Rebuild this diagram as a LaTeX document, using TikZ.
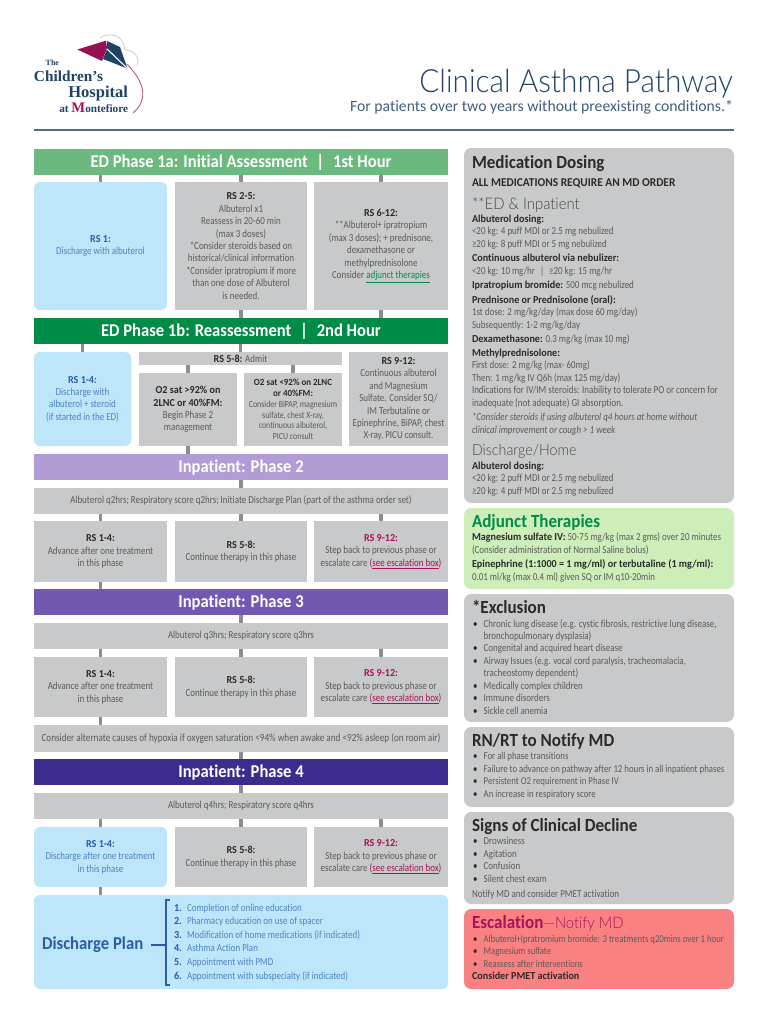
\documentclass[tikz,border=0pt]{standalone}
\usepackage{fontspec}
\setmainfont{Carlito}[FakeStretch=0.84,Ligatures=NoCommon]
\newfontfamily\hf{Carlito}[FakeStretch=0.92,Ligatures=NoCommon]
\newfontfamily\bbf{Carlito}[FakeStretch=0.95,Ligatures=NoCommon]
\newfontfamily\stf{Carlito}[Ligatures=NoCommon]
\newfontfamily\lf{Lato Light}[FakeStretch=0.93,Ligatures=NoCommon]
\newfontfamily\lgf{Liberation Serif}
\definecolor{boxg}{HTML}{C8C9CA}
\definecolor{lbl}{HTML}{BEE6FA}
\definecolor{txg}{HTML}{5A5A5A}
\definecolor{txd}{HTML}{2A2A2A}
\definecolor{txb}{HTML}{4F83C0}
\definecolor{txbd}{HTML}{2B5DA6}
\definecolor{gr1}{HTML}{6CB97F}
\definecolor{gr2}{HTML}{008C47}
\definecolor{pu1}{HTML}{B19CD6}
\definecolor{pu2}{HTML}{7358B1}
\definecolor{pu3}{HTML}{3D2B8E}
\definecolor{cred}{HTML}{A8125A}
\definecolor{adj}{HTML}{CDEDB9}
\definecolor{esc}{HTML}{F98182}
\definecolor{navy}{HTML}{1F4266}
\definecolor{rul}{HTML}{4D6B88}
\definecolor{conng}{HTML}{8B8D8F}
\definecolor{subg}{HTML}{464646}
\newcommand\bodyf{\fontsize{8pt}{9.32pt}\selectfont}
\newcommand\bd[1]{{\color{txd}\bbf\bfseries #1}}
\newcommand\bdb[1]{{\color{txbd}\bbf\bfseries #1}}
\newcommand\bdr[1]{{\color{cred}\bbf\bfseries #1}}
\newcommand\bl{\makebox[8pt][l]{{\color{txd}\textbullet}}}
\newcommand\bi{\hspace*{8pt}}
\newcommand\esclink{{\color{cred}(\underline{see escalation box})}}
\newcommand\bx[6]{\node[#1,minimum width={(#5-#3)*0.75pt},minimum height={(#6-#4)*0.75pt}] (#2) at ({(#3+#5)/2},{(#4+#6)/2})}
\tikzset{
 x=0.75pt,y=-0.75pt,
 base/.style={inner sep=0pt,outer sep=0pt,align=center,font=\bodyf,text=txg},
 gbox/.style={base,fill=boxg},
 bbox/.style={base,fill=lbl,text=txb,rounded corners=4.5pt},
 hdr/.style={inner sep=0pt,outer sep=0pt,text=white,text height=10pt,text depth=2.5pt,font=\hf\fontsize{13.5pt}{15pt}\selectfont\bfseries},
 panel/.style={inner sep=0pt,outer sep=0pt,rounded corners=5.5pt},
 ptxt/.style={inner sep=0pt,outer sep=0pt,align=left,anchor=base west,font=\bodyf,text=txg},
 ptitle/.style={inner sep=0pt,outer sep=0pt,anchor=base west,text=txd,font=\hf\fontsize{13.9pt}{16pt}\selectfont\bfseries},
 psub/.style={inner sep=0pt,outer sep=0pt,anchor=base west,text=subg,font=\lf\fontsize{11.5pt}{13pt}\selectfont},
 conn/.style={draw=conng,line width=2.6pt},
 logot/.style={inner sep=0pt,outer sep=0pt,text=navy,anchor=base east,font=\lgf\bfseries},
}
\begin{document}
\begin{tikzpicture}
\useasboundingbox (0,0) rectangle (768,1024);
\fill[white] (0,0) rectangle (768,1024);
% logo
\draw[gray!35,line width=0.7pt] (100,38) .. controls (108,32) and (124,34) .. (125,50) .. controls (136,50) and (140,60) .. (137,66);
\fill[cred!90!black] (77.3,49.5) -- (106,40.7) -- (107,48) -- (102,61) -- cycle;
\fill[navy] (107,41) -- (120,47) -- (127.5,68.5) -- (103,59) -- (107,49) -- cycle;
\draw[white,line width=0.8pt] (107,49) -- (127,68);
\draw[cred!70,line width=0.7pt] (127,64) .. controls (148,86) and (146,102) .. (133,113);
\node[logot,font=\lgf\bfseries\fontsize{6pt}{7pt}\selectfont] (lt) at (59,65) {The};
\node[logot,font=\lgf\bfseries\fontsize{11.5pt}{12pt}\selectfont] (lc) at (103,82) {Children’s};
\node[logot,font=\lgf\bfseries\fontsize{12.4pt}{13pt}\selectfont] (lh) at (128,98) {Hospital};
\node[logot,font=\lgf\bfseries\fontsize{8.4pt}{10pt}\selectfont] (lm) at (128,113) {at {\color{cred}\fontsize{11pt}{12pt}\selectfont M}ontefiore};
% title
\node[inner sep=0pt,outer sep=0pt,anchor=base east,text=navy,font=\lf\fontsize{24pt}{26pt}\selectfont] (title) at (733,93) {Clinical Asthma Pathway};
\node[inner sep=0pt,outer sep=0pt,anchor=base east,text=navy!85,font=\stf\fontsize{11.8pt}{13pt}\selectfont] (subtitle) at (733,112) {For patients over two years without preexisting conditions.*};
\coordinate (rl) at (34,130); \coordinate (rr) at (734,130);
\draw[rul,line width=0.9pt] (rl) -- (rr);
% left column
\bx{hdr,fill=gr1}{h1a}{34}{149}{448}{175}{ED Phase 1a: Initial Assessment \;|\; 1st Hour};
\bx{bbox}{a1}{34}{182}{167}{310}{\bdb{RS 1:}\\Discharge with albuterol};
\bx{gbox}{a2}{175}{182}{307}{310}{\bd{RS 2-5:}\\Albuterol x1\\Reassess in 20-60 min\\(max 3 doses)\\*Consider steroids based on\\historical/clinical information\\*Consider ipratropium if more\\than one dose of Albuterol\\is needed.};
\bx{gbox}{a3}{314}{182}{448}{310}{\bd{RS 6-12:}\\**Albuterol+ ipratropium\\(max 3 doses); + prednisone,\\dexamethasone or\\methylprednisolone\\Consider {\color{gr2}\underline{adjunct therapies}}};
\bx{hdr,fill=gr2}{h1b}{34}{318}{448}{344}{ED Phase 1b: Reassessment \;|\; 2nd Hour};
\bx{bbox}{b1}{34}{352}{131}{446}{\bdb{RS 1-4:}\\Discharge with\\albuterol + steroid\\(if started in the ED)};
\bx{gbox}{b2}{139}{352}{342}{365}{\bd{RS 5-8:} Admit};
\bx{gbox}{b3}{139}{373}{237}{446}{\bd{O2 sat >92\% on}\\\bd{2LNC or 40\%FM:}\\Begin Phase 2\\management};
\bx{gbox,font=\fontsize{7.05pt}{8.1pt}\selectfont}{b4}{244}{373}{342}{446}{\bd{O2 sat <92\% on 2LNC}\\\bd{or 40\%FM:}\\Consider BiPAP, magnesium\\sulfate, chest X-ray,\\continuous albuterol,\\PICU consult};
\bx{gbox}{b5}{349}{352}{448}{446}{\bd{RS 9-12:}\\Continuous albuterol\\and Magnesium\\Sulfate. Consider SQ/\\IM Terbutaline or\\Epinephrine, BiPAP, chest\\X-ray, PICU consult.};
\bx{hdr,fill=pu1}{h2}{34}{454}{448}{480}{Inpatient: Phase 2};
\bx{gbox}{c0}{34}{488}{448}{514}{Albuterol q2hrs; Respiratory score q2hrs; Initiate Discharge Plan (part of the asthma order set)};
\bx{gbox}{c1}{34}{521}{167}{582}{\bd{RS 1-4:}\\Advance after one treatment\\in this phase};
\bx{gbox}{c2}{175}{521}{307}{582}{\bd{RS 5-8:}\\Continue therapy in this phase};
\bx{gbox}{c3}{314}{521}{448}{582}{\bdr{RS 9-12:}\\Step back to previous phase or\\escalate care \esclink};
\bx{hdr,fill=pu2}{h3}{34}{589}{448}{615}{Inpatient: Phase 3};
\bx{gbox}{d0}{34}{623}{448}{649}{Albuterol q3hrs; Respiratory score q3hrs};
\bx{gbox}{d1}{34}{657}{167}{717}{\bd{RS 1-4:}\\Advance after one treatment\\in this phase};
\bx{gbox}{d2}{175}{657}{307}{717}{\bd{RS 5-8:}\\Continue therapy in this phase};
\bx{gbox}{d3}{314}{657}{448}{717}{\bdr{RS 9-12:}\\Step back to previous phase or\\escalate care \esclink};
\bx{gbox,font=\fontsize{8.2pt}{9.32pt}\selectfont}{d4}{34}{725}{448}{752}{Consider alternate causes of hypoxia if oxygen saturation <94\% when awake and <92\% asleep (on room air)};
\bx{hdr,fill=pu3}{h4}{34}{759}{448}{785}{Inpatient: Phase 4};
\bx{gbox}{e0}{34}{793}{448}{819}{Albuterol q4hrs; Respiratory score q4hrs};
\bx{bbox}{e1}{34}{827}{167}{887}{\bdb{RS 1-4:}\\Discharge after one treatment\\in this phase};
\bx{gbox}{e2}{175}{827}{307}{887}{\bd{RS 5-8:}\\Continue therapy in this phase};
\bx{gbox}{e3}{314}{827}{448}{887}{\bdr{RS 9-12:}\\Step back to previous phase or\\escalate care \esclink};
\bx{bbox}{f0}{34}{895}{448}{989}{};
\node[inner sep=0pt,outer sep=0pt,anchor=base west,text=txbd,font=\hf\fontsize{13.6pt}{15pt}\selectfont\bfseries] (dp) at (42,949) {Discharge Plan};
\node[inner sep=0pt,outer sep=0pt,anchor=base west,align=left,text=txb,font=\fontsize{8pt}{10.2pt}\selectfont] (dl) at (174,979) {\makebox[9.8pt][l]{\bdb{1.}}Completion of online education\\\makebox[9.8pt][l]{\bdb{2.}}Pharmacy education on use of spacer\\\makebox[9.8pt][l]{\bdb{3.}}Modification of home medications (if indicated)\\\makebox[9.8pt][l]{\bdb{4.}}Asthma Action Plan\\\makebox[9.8pt][l]{\bdb{5.}}Appointment with PMD\\\makebox[9.8pt][l]{\bdb{6.}}Appointment with subspecialty (if indicated)};
\coordinate (bt) at (170,900); \coordinate (bb) at (170,985); \coordinate (bm) at (166,945);
\draw[txbd,line width=1.1pt] (bt) -- (bm |- bt) -- (bm |- bb) -- (bb);
\draw[txbd,line width=0.8pt] ([xshift=6pt,yshift=3pt]dp.base east) -- (bm);
% connectors
\foreach \n in {a1,a2,a3} \draw[conn] (\n.north) -- (\n.north |- h1a.south);
\foreach \n in {a2,a3} \draw[conn] (\n.south) -- (\n.south |- h1b.north);
\foreach \n in {b1,b2} \draw[conn] (\n.north) -- (\n.north |- h1b.south);
\foreach \n in {b3,b4} \draw[conn] (\n.north) -- (\n.north |- b2.south);
\draw[conn] (b3.south) -- (b3.south |- h2.north);
\draw[conn] (c0.north) -- (c0.north |- h2.south);
\foreach \n in {c1,c2,c3} \draw[conn] (\n.north) -- (\n.north |- c0.south);
\draw[conn] (c1.south) -- (c1.south |- h3.north);
\draw[conn] (d0.north) -- (d0.north |- h3.south);
\foreach \n in {d1,d2,d3} \draw[conn] (\n.north) -- (\n.north |- d0.south);
\draw[conn] (d1.south) -- (d1.south |- d4.north);
\draw[conn] (d4.south) -- (d4.south |- h4.north);
\draw[conn] (e0.north) -- (e0.north |- h4.south);
\foreach \n in {e1,e2,e3} \draw[conn] (\n.north) -- (\n.north |- e0.south);
\draw[conn] (e1.south) -- (e1.south |- f0.north);
% right column
\bx{panel,fill=boxg}{p1}{464}{148}{734}{503}{};
\bx{panel,fill=adj}{p2}{464}{508}{734}{589}{};
\bx{panel,fill=boxg}{p3}{464}{594}{734}{722}{};
\bx{panel,fill=boxg}{p4}{464}{727}{734}{807}{};
\bx{panel,fill=boxg}{p5}{464}{812}{734}{904}{};
\bx{panel,fill=esc}{p6}{464}{909}{734}{989}{};
\node[ptitle] (m0) at (472,168) {Medication Dosing};
\node[ptxt,text=txd,font=\bbf\fontsize{9pt}{10pt}\selectfont\bfseries] (m1) at (472,186) {ALL MEDICATIONS REQUIRE AN MD ORDER};
\node[psub,font=\lf\fontsize{12pt}{13pt}\selectfont] (m2) at (472,209) {**ED \& Inpatient};
\node[ptxt] (m3) at (472,247) {\bd{Albuterol dosing:}\\<20 kg: 4 puff MDI or 2.5 mg nebulized\\≥20 kg: 8 puff MDI or 5 mg nebulized};
\node[ptxt] (m4) at (472,274) {\bd{Continuous albuterol via nebulizer:}\\<20 kg: 10 mg/hr \;|\; ≥20 kg: 15 mg/hr};
\node[ptxt] (m5) at (472,288) {\bd{Ipratropium bromide:} 500 mcg nebulized};
\node[ptxt] (m6) at (472,328) {\bd{Prednisone or Prednisolone (oral):}\\1st dose: 2 mg/kg/day (max dose 60 mg/day)\\Subsequently: 1-2 mg/kg/day};
\node[ptxt] (m7) at (472,342) {\bd{Dexamethasone:} 0.3 mg/kg (max 10 mg)};
\node[ptxt] (m8) at (472,406) {\bd{Methylprednisolone:}\\First dose: 2 mg/kg (max- 60mg)\\Then: 1 mg/kg IV Q6h (max 125 mg/day)\\Indications for IV/IM steroids: Inability to tolerate PO or concern for\\inadequate (not adequate) GI absorption.};
\node[ptxt] (m9) at (472,433) {\itshape *Consider steroids if using albuterol q4 hours at home without\\\itshape clinical improvement or cough > 1 week};
\node[psub] (m10) at (472,455) {Discharge/Home};
\node[ptxt] (m11) at (472,494) {\bd{Albuterol dosing:}\\<20 kg: 2 puff MDI or 2.5 mg nebulized\\≥20 kg: 4 puff MDI or 2.5 mg nebulized};
\node[ptitle,text=gr2] (j0) at (472,527) {Adjunct Therapies};
\node[ptxt] (j1) at (472,553) {\bd{Magnesium sulfate IV:} 50-75 mg/kg (max 2 gms) over 20 minutes\\(Consider administration of Normal Saline bolus)};
\node[ptxt] (j2) at (472,580) {\bd{Epinephrine (1:1000 = 1 mg/ml) or terbutaline (1 mg/ml):}\\0.01 ml/kg (max 0.4 ml) given SQ or IM q10-20min};
\node[ptitle] (x0) at (472,613) {*Exclusion};
\node[ptxt] (x1) at (473,714) {\bl Chronic lung disease (e.g. cystic fibrosis, restrictive lung disease,\\\bi bronchopulmonary dysplasia)\\\bl Congenital and acquired heart disease\\\bl Airway Issues (e.g. vocal cord paralysis, tracheomalacia,\\\bi tracheostomy dependent)\\\bl Medically complex children\\\bl Immune disorders\\\bl Sickle cell anemia};
\node[ptitle] (r0) at (472,746) {RN/RT to Notify MD};
\node[ptxt,font=\fontsize{7.85pt}{9.32pt}\selectfont] (r1) at (473,797) {\bl For all phase transitions\\\bl Failure to advance on pathway after 12 hours in all inpatient phases\\\bl Persistent O2 requirement in Phase IV\\\bl An increase in respiratory score};
\node[ptitle] (s0) at (472,831) {Signs of Clinical Decline};
\node[ptxt] (s1) at (473,882) {\bl Drowsiness\\\bl Agitation\\\bl Confusion\\\bl Silent chest exam};
\node[ptxt] (s2) at (472,897) {Notify MD and consider PMET activation};
\node[ptitle,text=cred] (z0) at (472,928) {Escalation{\lf\mdseries\fontsize{11.9pt}{13pt}\selectfont—Notify MD}};
\node[ptxt,font=\fontsize{7.8pt}{9.32pt}\selectfont] (z1) at (473,967) {\bl Albuterol+Ipratromium bromide: 3 treatments q20mins over 1 hour\\\bl Magnesium sulfate\\\bl Reassess after interventions};
\node[ptxt] (z2) at (472,979) {\bd{Consider PMET activation}};
\end{tikzpicture}
\end{document}
